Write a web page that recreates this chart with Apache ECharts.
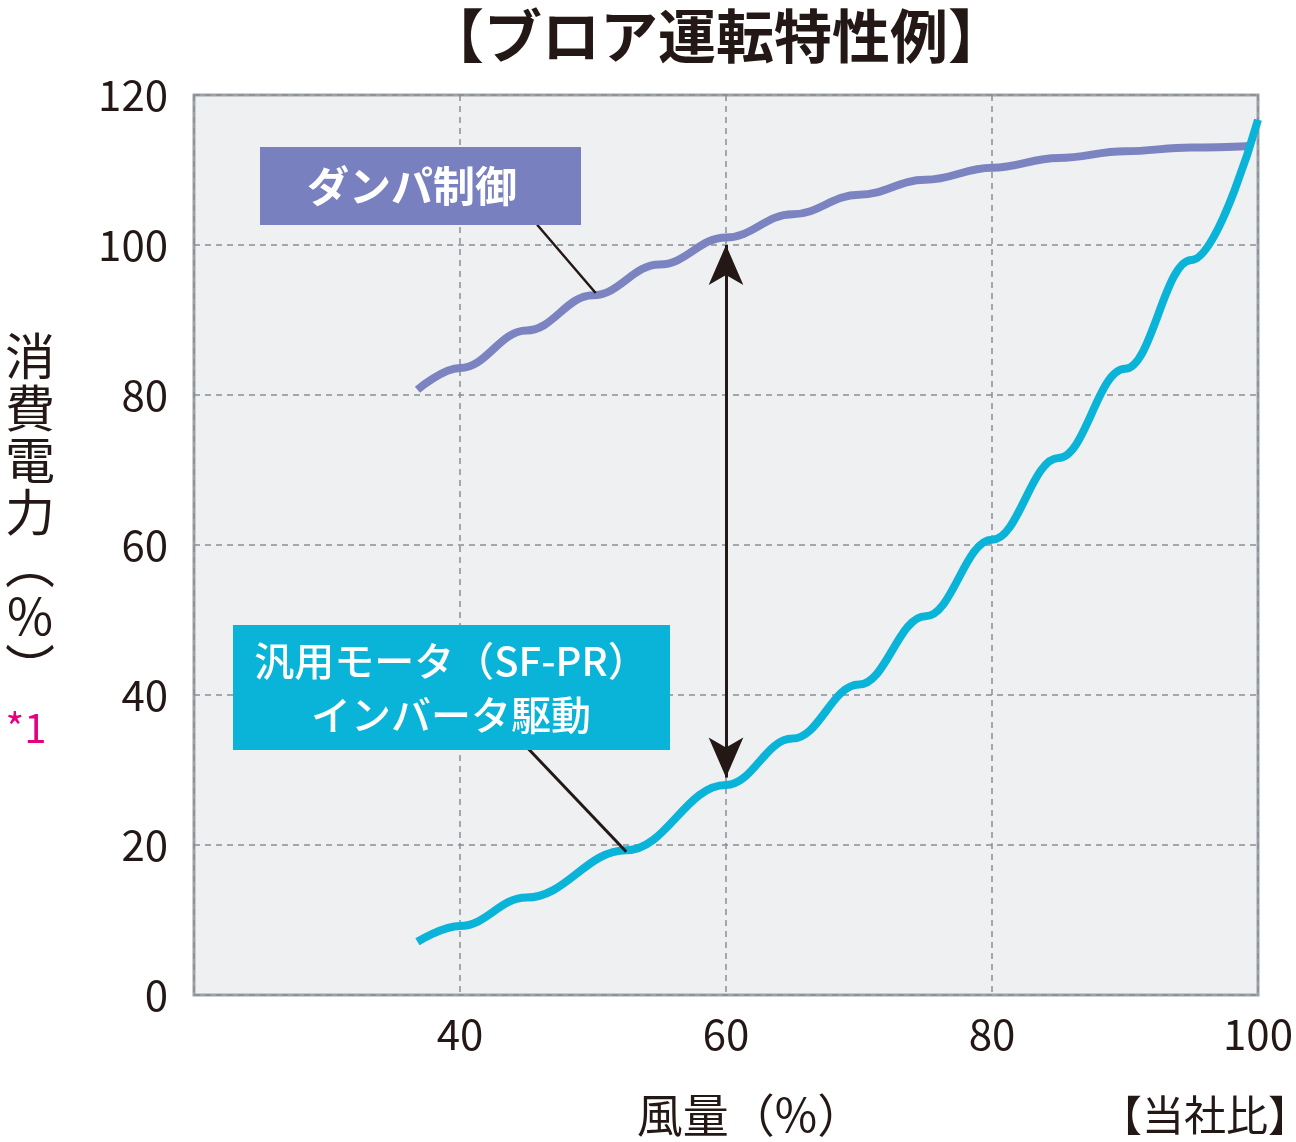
<!DOCTYPE html>
<html><head><meta charset="utf-8">
<script src="https://cdn.jsdelivr.net/npm/echarts@6/dist/echarts.min.js"></script>
<style>html,body{margin:0;padding:0;background:#fff}#c{width:1296px;height:1142px}</style>
</head><body><div id="c"></div>
<script>
const damperX = [36.8, 40, 45, 50, 55, 60, 65, 70, 75, 80, 85, 90, 95, 99.5];
const damperY = [80.7, 83.6, 88.6, 93.3, 97.4, 101, 104.1, 106.7, 108.7, 110.3, 111.6, 112.5, 113, 113.2];
const invX = [36.8, 40, 45, 52.5, 60, 65, 70, 75, 80, 85, 90, 95, 100];
const invY = [7.1, 9.2, 13.0, 19.3, 28, 34.2, 41.4, 50.5, 60.7, 71.6, 83.5, 98.0, 116.7];
const xTicks = [40, 60, 80, 100];
const yTicks = [0, 20, 40, 60, 80, 100, 120];
const arrow = [[60, 100], [60, 29]];
const damperLeader = [[45.8, 102.7], [50.2, 93.6]];
const invLeader = [[45.1, 32.9], [52.5, 19.1]];

const F = '"Noto Sans CJK JP", "Noto Sans", sans-serif';
const chart = echarts.init(document.getElementById('c'));
const zip = (a, b) => a.map((v, i) => [v, b[i]]);
chart.setOption({
  animation: false,
  grid: {left: 194, top: 95, right: 38, bottom: 147, show: true, backgroundColor: '#eef0f2', borderColor: '#9ca3a8', borderWidth: 3},
  xAxis: {type: 'value', min: 20, max: 100, interval: 20,
    axisLine: {show: false}, axisTick: {show: false},
    axisLabel: {fontSize: 42, color: '#231815', fontFamily: F, margin: 18,
      formatter: v => xTicks.includes(v) ? String(v) : ''},
    splitLine: {lineStyle: {type: [6, 5], color: '#8a8f94', width: 1.5}}},
  yAxis: {type: 'value', min: 0, max: 120, interval: 20,
    axisLine: {show: false}, axisTick: {show: false},
    axisLabel: {fontSize: 42, color: '#231815', fontFamily: F, margin: 26,
      formatter: v => yTicks.includes(v) ? String(v) : ''},
    splitLine: {lineStyle: {type: [6, 5], color: '#8a8f94', width: 1.5}}},
  series: [
    {type: 'line', data: zip(damperX, damperY), smooth: 0.4, smoothMonotone: 'x', symbol: 'none',
     lineStyle: {color: '#7b83c1', width: 8}, z: 3,
     markLine: {silent: true, symbol: 'none', label: {show: false},
       lineStyle: {color: '#231815', width: 2.5, type: 'solid'},
       data: [[{coord: damperLeader[0]}, {coord: damperLeader[1]}]]}},
    {type: 'line', data: zip(invX, invY), smooth: 0.4, smoothMonotone: 'x', symbol: 'none',
     lineStyle: {color: '#0ab4d9', width: 8}, z: 3,
     markLine: {silent: true, label: {show: false},
       lineStyle: {color: '#231815', width: 3, type: 'solid'},
       data: [
         [{coord: invLeader[0], symbol: 'none'}, {coord: invLeader[1], symbol: 'none'}],
         [{coord: arrow[0], symbol: 'arrow', symbolSize: [26, 40]}, {coord: arrow[1], symbol: 'arrow', symbolSize: [26, 40]}]
       ]}}
  ],
  graphic: [
    {type: 'text', x: 716, y: 36, style: {text: '【ブロア運転特性例】', font: 'bold 58px ' + F, fill: '#231815', align: 'center', verticalAlign: 'middle'}},
    {type: 'rect', shape: {x: 260, y: 147, width: 321, height: 78}, style: {fill: '#7880c0'}, z: 10},
    {type: 'text', x: 412, y: 186, style: {text: 'ダンパ制御', font: 'bold 42px ' + F, fill: '#fff', align: 'center', verticalAlign: 'middle'}, z: 11},
    {type: 'rect', shape: {x: 233, y: 625, width: 437, height: 125}, style: {fill: '#0ab4d9'}, z: 10},
    {type: 'text', x: 451, y: 688, style: {text: '汎用モータ（SF-PR）\nインバータ駆動', font: '500 40px ' + F, fill: '#fff', align: 'center', verticalAlign: 'middle', lineHeight: 54}, z: 11},
    {type: 'text', x: 30, y: 512, style: {text: '消\n費\n電\n力\n︵\n%\n︶', font: '50px ' + F, fill: '#231815', align: 'center', verticalAlign: 'middle', lineHeight: 52}},
    {type: 'text', x: 26, y: 728, style: {text: '*1', font: '40px ' + F, fill: '#e4007f', align: 'center', verticalAlign: 'middle'}},
    {type: 'text', x: 750, y: 1115, style: {text: '風量（%）', font: '46px ' + F, fill: '#231815', align: 'center', verticalAlign: 'middle'}},
    {type: 'text', x: 1205, y: 1115, style: {text: '【当社比】', font: '42px ' + F, fill: '#231815', align: 'center', verticalAlign: 'middle'}}
  ]
});
</script></body></html>
